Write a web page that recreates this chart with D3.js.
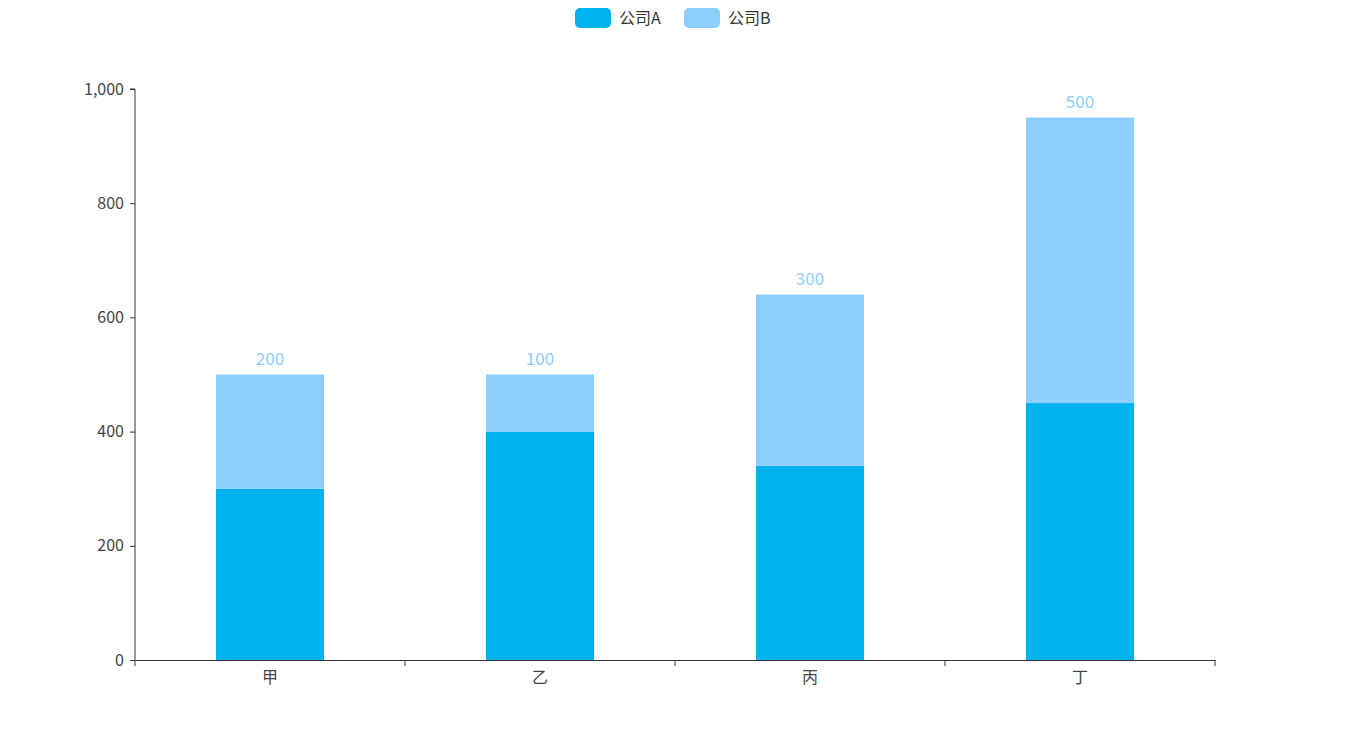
<!DOCTYPE html>
<html><head><meta charset="utf-8">
<script src="https://cdn.jsdelivr.net/npm/d3@7/dist/d3.min.js"></script>
<style>body{margin:0;background:#fff}text{font-family:"Noto Sans CJK SC","Microsoft YaHei",sans-serif}</style>
</head><body><svg id="c" width="1350" height="750"></svg>
<script>
const categories = ["甲","乙","丙","丁"];
const seriesNames = ["公司A","公司B"];
const seriesA = [300,400,340,450];
const seriesB = [200,100,300,500];
const yTicks = [0,200,400,600,800,1000];
const colors = ["#00b2ee","#8ccfff"];

const svg = d3.select("#c");
const L=135,R=1215,T=89,B=660;
const x = d3.scaleBand().domain(categories).range([L,R]).paddingInner(0.6).paddingOuter(0.3);
const y = d3.scaleLinear().domain([0,1000]).range([B,T]);
const fmt = d3.format(",");

const ya = svg.append("g").attr("transform",`translate(${L},0)`).call(d3.axisLeft(y).tickValues(yTicks).tickFormat(fmt).tickSize(5).tickPadding(6));
const xb = d3.scaleBand().domain(categories).range([L,R]);
const xa = svg.append("g").attr("transform",`translate(0,${B})`).call(d3.axisBottom(xb).tickSize(0).tickPadding(12));
xa.selectAll(".tick line").remove();
xa.selectAll("line.sep").data(d3.range(5)).enter().append("line")
  .attr("x1",i=>L+i*xb.bandwidth()).attr("x2",i=>L+i*xb.bandwidth()).attr("y1",0).attr("y2",6).attr("stroke","#333");
[ya,xa].forEach(a=>{a.selectAll("path,line").attr("stroke","#333");a.selectAll("text").attr("fill","#444").style("font-size","16px");});
ya.select(".domain").attr("d",`M0,${B}V${T}H-5`);

const stacked = d3.stack().keys([0,1])(categories.map((c,i)=>({0:seriesA[i],1:seriesB[i]})));
stacked.forEach((s,k)=>{
  svg.append("g").selectAll("rect").data(s).enter().append("rect")
    .attr("x",(d,i)=>x(categories[i])).attr("width",x.bandwidth())
    .attr("y",d=>y(d[1])).attr("height",d=>y(d[0])-y(d[1])).attr("fill",colors[k]);
});
svg.append("g").selectAll("text").data(stacked[1]).enter().append("text")
  .attr("x",(d,i)=>x(categories[i])+x.bandwidth()/2).attr("y",d=>y(d[1])-10)
  .attr("text-anchor","middle").attr("fill",colors[1]).style("font-size","17px")
  .text((d,i)=>seriesB[i]);

const lg = svg.append("g");
const lx=[575,684];
seriesNames.forEach((n,i)=>{
  lg.append("rect").attr("x",lx[i]).attr("y",8).attr("width",36).attr("height",20).attr("rx",5).attr("fill",colors[i]);
  lg.append("text").attr("x",lx[i]+44).attr("y",24).attr("fill","#333").style("font-size","16px").text(n);
});
</script></body></html>
